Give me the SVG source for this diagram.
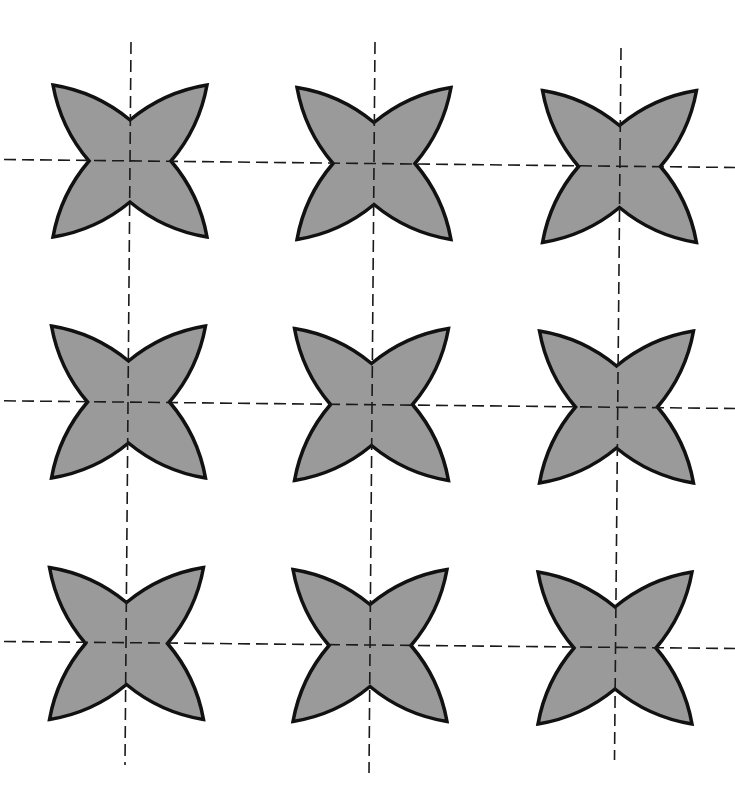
<svg xmlns="http://www.w3.org/2000/svg" width="735" height="789" viewBox="0 0 735 789">
  <style>
    .star { fill: #9a9a9a; stroke: #111; stroke-width: 3.5; stroke-linejoin: miter; stroke-miterlimit: 10; }
    .grid { stroke: #1a1a1a; stroke-width: 1.6; stroke-dasharray: 12 6; fill: none; }
  </style>
  <defs>
    <path id="starShape" d="M0,-41 A160,160 0 0 1 77,-76 A160,160 0 0 1 41,0 A160,160 0 0 1 77,76 A160,160 0 0 1 0,41 A160,160 0 0 1 -77,76 A160,160 0 0 1 -41,0 A160,160 0 0 1 -77,-76 A160,160 0 0 1 0,-41 Z"/>
  </defs>
  <rect width="735" height="789" fill="#ffffff"/>
  <g id="stars">
    <g id="star-1-1"><use href="#starShape" class="star" transform="translate(130,161)"/></g>
    <g id="star-1-2"><use href="#starShape" class="star" transform="translate(374,163.5)"/></g>
    <g id="star-1-3"><use href="#starShape" class="star" transform="translate(619.5,166.5)"/></g>
    <g id="star-2-1"><use href="#starShape" class="star" transform="translate(128.5,402)"/></g>
    <g id="star-2-2"><use href="#starShape" class="star" transform="translate(371.5,404.5)"/></g>
    <g id="star-2-3"><use href="#starShape" class="star" transform="translate(616.5,407)"/></g>
    <g id="star-3-1"><use href="#starShape" class="star" transform="translate(126.5,643.5)"/></g>
    <g id="star-3-2"><use href="#starShape" class="star" transform="translate(370,645.5)"/></g>
    <g id="star-3-3"><use href="#starShape" class="star" transform="translate(615,648)"/></g>
  </g>
  <g id="grid-lines">
    <line class="grid" x1="4" y1="159.5" x2="735" y2="167.5"/>
    <line class="grid" x1="4" y1="400.8" x2="735" y2="408.5"/>
    <line class="grid" x1="4" y1="641.5" x2="735" y2="648.5"/>
    <line class="grid" x1="131" y1="42" x2="125" y2="765"/>
    <line class="grid" x1="375" y1="42" x2="369" y2="773"/>
    <line class="grid" x1="621" y1="48" x2="614.5" y2="760"/>
  </g>
</svg>
